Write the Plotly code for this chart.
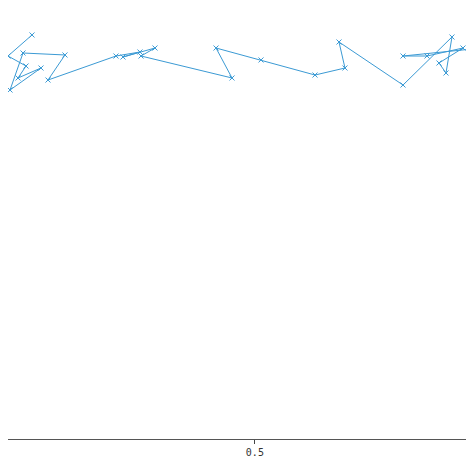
import plotly.graph_objects as go

# pixel positions, converted to data units
px_x = [24, 0, 18, 10, 33, 2, 15, 57, 40, 108, 132, 115, 147, 133, 224, 208, 253, 307, 337, 331, 395, 444, 438, 431, 455, 419, 395, 474]
px_y = [27, 48, 58, 70, 60, 82, 45, 47, 72, 48, 44, 49, 40, 48, 70, 40, 52, 67, 60, 34, 77, 29, 65, 55, 40, 48, 48, 40]
x_vals = [round(p / 474 * 0.96, 4) for p in px_x]
y_vals = [round((431 - p) / 431, 4) for p in px_y]

fig = go.Figure(go.Scatter(
    x=x_vals, y=y_vals, mode="lines+markers",
    line=dict(color="#3b9ad4", width=1),
    marker=dict(symbol="x-thin", size=5, line=dict(color="#3b9ad4", width=1)),
))
fig.update_layout(
    width=474, height=474, margin=dict(l=0, r=0, t=0, b=43),
    plot_bgcolor="white", paper_bgcolor="white", showlegend=False,
    font=dict(family="DejaVu Sans Mono", size=10, color="#333"),
)
fig.update_xaxes(range=[0, 0.96], tickvals=[0.5], ticktext=["0.5"], showgrid=False,
                 showline=True, linecolor="#555", ticks="outside", ticklen=4, zeroline=False)
fig.update_yaxes(range=[0, 1], visible=False)
fig.write_html("out.html")
